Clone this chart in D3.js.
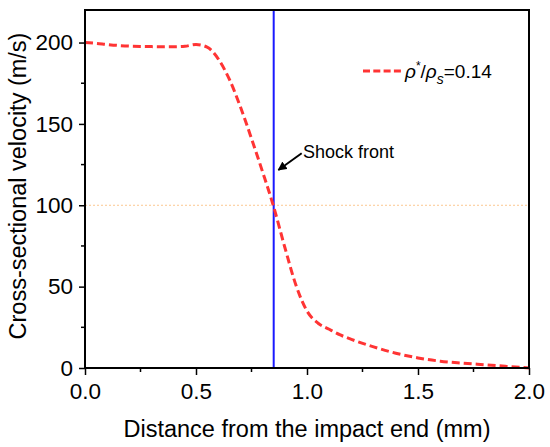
<!DOCTYPE html>
<html>
<head>
<meta charset="utf-8">
<script src="https://cdn.jsdelivr.net/npm/d3@7"></script>
<style>
  body { margin: 0; background: #fff; }
  text { font-family: "Liberation Sans", Arial, sans-serif; fill: #000; }
</style>
</head>
<body>
<div id="chart"></div>
<script>
// distance from the impact end (mm)
const distance = [0, 0.05, 0.1, 0.15, 0.2, 0.25, 0.3, 0.35, 0.4, 0.45, 0.5, 0.55, 0.6, 0.65, 0.7, 0.75, 0.8, 0.85,
  0.9, 0.95, 1.0, 1.05, 1.1, 1.15, 1.2, 1.3, 1.4, 1.5, 1.6, 1.7, 1.8, 1.9, 2.0]
// cross-sectional velocity (m/s), rho*/rho_s = 0.14
const velocity = [200, 199.5, 198.8, 198.2, 197.8, 197.6, 197.5, 197.4, 197.4, 197.7, 198.8, 197.2, 190, 177.5, 160.5, 141, 120.5, 99,
  74.2, 51, 35, 27.5, 23.8, 20.3, 17.6, 13, 9.1, 6.2, 4.2, 3.0, 2.0, 1.0, 0]
const shockFront = 0.85
const reference = 100
const xTicks = [0, 0.5, 1.0, 1.5, 2.0]
const xMinor = [0.25, 0.75, 1.25, 1.75]
const yTicks = [0, 50, 100, 150, 200]
const yMinor = [25, 75, 125, 175]

const margin = {top: 10, right: 21, bottom: 79, left: 85}
const width = 550 - margin.left - margin.right
const height = 447 - margin.top - margin.bottom

const svg = d3.select("#chart")
  .append("svg")
  .attr("width", width + margin.left + margin.right)
  .attr("height", height + margin.top + margin.bottom)
const g = svg.append("g")
  .attr("transform", "translate(" + margin.left + "," + margin.top + ")")

const x = d3.scaleLinear().domain([0, 2]).range([0, width])
const y = d3.scaleLinear().domain([0, 220]).range([height, 0])

// dotted reference line at 100 m/s
g.append("line")
  .attr("x1", 0).attr("x2", width)
  .attr("y1", y(reference)).attr("y2", y(reference))
  .attr("stroke", "#fcc88f")
  .attr("stroke-width", 1)
  .attr("stroke-dasharray", "2,2")

// shock front position
g.append("line")
  .attr("x1", x(shockFront)).attr("x2", x(shockFront))
  .attr("y1", 0).attr("y2", height)
  .attr("stroke", "#1a1aff")
  .attr("stroke-width", 2)

// velocity curve
const line = d3.line()
  .x(function(d, i) { return x(distance[i]) })
  .y(function(d) { return y(d) })
  .curve(d3.curveMonotoneX)

g.append("path")
  .datum(velocity)
  .attr("fill", "none")
  .attr("stroke", "#ff3434")
  .attr("stroke-width", 3)
  .attr("stroke-dasharray", "8,4")
  .attr("d", line)

// axes
const xAxis = g.append("g")
  .attr("transform", "translate(0," + height + ")")
  .call(d3.axisBottom(x).tickValues(xTicks).tickFormat(d3.format(".1f")).tickSize(7).tickPadding(8))
xAxis.append("g").selectAll("line")
  .data(xMinor).enter().append("line")
  .attr("x1", x).attr("x2", x).attr("y1", 0).attr("y2", 4)
  .attr("stroke", "#000").attr("stroke-width", 1.5)

const yAxis = g.append("g")
  .call(d3.axisLeft(y).tickValues(yTicks).tickSize(6).tickPadding(6))
yAxis.append("g").selectAll("line")
  .data(yMinor).enter().append("line")
  .attr("y1", y).attr("y2", y).attr("x1", 0).attr("x2", -4)
  .attr("stroke", "#000").attr("stroke-width", 1.5)

g.selectAll(".domain").remove()
g.selectAll(".tick line").attr("stroke-width", 1.5)
g.selectAll(".tick text").style("font-size", "22.5px").attr("font-family", "Liberation Sans, Arial, sans-serif")
xAxis.selectAll(".tick text").attr("dy", "0.71em")

// frame
g.append("rect")
  .attr("width", width).attr("height", height)
  .attr("fill", "none")
  .attr("stroke", "#000")
  .attr("stroke-width", 2)

// axis titles
svg.append("text")
  .attr("x", margin.left + width / 2)
  .attr("y", 437)
  .attr("text-anchor", "middle")
  .style("font-size", "23.5px")
  .text("Distance from the impact end (mm)")

svg.append("text")
  .attr("transform", "translate(26," + (margin.top + height / 2 - 3) + ") rotate(-90)")
  .attr("text-anchor", "middle")
  .style("font-size", "23.5px")
  .text("Cross-sectional velocity (m/s)")

// legend
g.append("line")
  .attr("x1", 278).attr("x2", 316)
  .attr("y1", 61).attr("y2", 61)
  .attr("stroke", "#ff3434")
  .attr("stroke-width", 3)
  .attr("stroke-dasharray", "7,3.3")

const legend = g.append("text")
  .attr("x", 320).attr("y", 68)
  .style("font-size", "19px")
legend.append("tspan").style("font-style", "italic").text("ρ")
legend.append("tspan").attr("dy", -8).style("font-size", "12px").text("*")
legend.append("tspan").attr("dy", 8).text("/")
legend.append("tspan").style("font-style", "italic").text("ρ")
legend.append("tspan").attr("dy", 6).style("font-size", "14px").style("font-style", "italic").text("s")
legend.append("tspan").attr("dy", -6).text("=0.14")

// shock front annotation
svg.append("defs").append("marker")
  .attr("id", "arrow")
  .attr("viewBox", "0 0 10 10")
  .attr("refX", 9).attr("refY", 5)
  .attr("markerWidth", 4.5).attr("markerHeight", 4.5)
  .attr("orient", "auto")
  .append("path")
  .attr("d", "M0,0 L10,5 L0,10 z")
  .attr("fill", "#000")

g.append("line")
  .attr("x1", x(0.976)).attr("y1", y(132))
  .attr("x2", x(0.871)).attr("y2", y(121.7))
  .attr("stroke", "#000")
  .attr("stroke-width", 2)
  .attr("marker-end", "url(#arrow)")

g.append("text")
  .attr("x", x(0.982)).attr("y", y(129))
  .style("font-size", "18px")
  .text("Shock front")
</script>
</body>
</html>
